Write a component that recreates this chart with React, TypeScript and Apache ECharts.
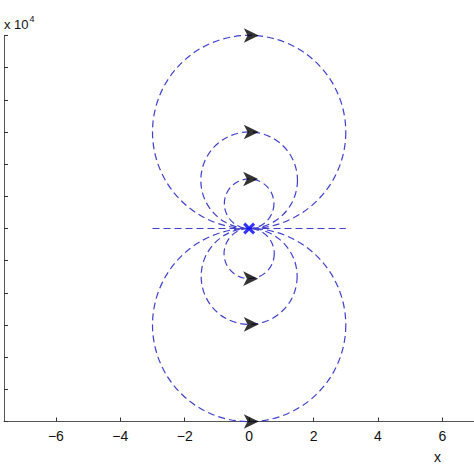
import React, { useEffect, useRef } from "react";
import * as echarts from "echarts";

// Root-locus branches (units: x, y in 10^4)
const circleCenterX = [0, 0, 0, 0, 0, 0];
const circleCenterY = [3.0, 1.5, 0.77, -3.0, -1.49, -0.78];
const circleRadius = [3.0, 1.5, 0.77, 3.0, 1.49, 0.78];
const realAxisBranch: [number, number][] = [[-3, 0], [3, 0]];
const arrowPoints: [number, number][] = [
  [0.3, 6.0], [0.3, 3.0], [0.28, 1.54],
  [0.3, -6.0], [0.3, -2.98], [0.28, -1.56],
];
const poles: [number, number][] = [[0, 0]];
const xTicks = [-6, -4, -2, 0, 2, 4, 6];

const LINE = "#4040cc";
const FONT = "'Liberation Sans', Arial, sans-serif";

export default function App() {
  const ref = useRef<HTMLDivElement>(null);
  useEffect(() => {
    if (!ref.current) return;
    const chart = echarts.init(ref.current, null, { renderer: "svg" });
    const circles = circleCenterY.map((cy, i) => [circleCenterX[i], cy, circleRadius[i]]);
    chart.setOption({
      animation: false,
      backgroundColor: "#ffffff",
      grid: { left: 4, right: 0, top: 35.5, bottom: 52.5, containLabel: false },
      xAxis: {
        type: "value",
        min: -7.61,
        max: 6.98,
        axisLine: { show: true, onZero: false, lineStyle: { color: "#555", width: 1 } },
        axisTick: { show: true, inside: true, length: 4, customValues: xTicks, lineStyle: { color: "#333" } },
        axisLabel: {
          show: true,
          customValues: xTicks,
          margin: 7,
          fontSize: 14,
          fontFamily: FONT,
          color: "#111",
          formatter: (v: number) => (v < 0 ? "\u2212" + Math.abs(v) : String(v)),
        },
        splitLine: { show: false },
      },
      yAxis: {
        type: "value",
        min: -6,
        max: 6,
        interval: 1,
        axisLine: { show: true, onZero: false, lineStyle: { color: "#555", width: 1 } },
        axisTick: { show: true, inside: true, length: 4, lineStyle: { color: "#333" } },
        axisLabel: { show: false },
        splitLine: { show: false },
      },
      series: [
        {
          type: "custom",
          data: circles,
          clip: false,
          renderItem: (params: any, api: any) => {
            const c = api.coord([api.value(0), api.value(1)]);
            const r = api.size([api.value(2), 0])[0];
            return {
              type: "circle",
              shape: { cx: c[0], cy: c[1], r },
              style: { fill: "none", stroke: LINE, lineWidth: 1.2, lineDash: [7, 4] },
            };
          },
          z: 1,
        },
        {
          type: "line",
          data: realAxisBranch,
          symbol: "none",
          lineStyle: { color: LINE, width: 1.2, type: [7, 4] },
          z: 1,
        },
        {
          type: "scatter",
          data: arrowPoints,
          symbol: "arrow",
          symbolRotate: -90,
          symbolSize: [11, 15],
          itemStyle: { color: "#000" },
          z: 3,
        },
        {
          type: "scatter",
          data: poles,
          symbol:
            "path://M0,1.8 L1.8,0 L5,3.2 L8.2,0 L10,1.8 L6.8,5 L10,8.2 L8.2,10 L5,6.8 L1.8,10 L0,8.2 L3.2,5 Z",
          symbolSize: 12,
          itemStyle: { color: "#0000ff" },
          z: 4,
        },
      ],
      graphic: [
        {
          type: "text",
          left: 4,
          top: 14,
          style: {
            text: "{a|x 10}{b|4}",
            rich: {
              a: { fontSize: 13, fontFamily: FONT, fill: "#111", verticalAlign: "bottom", padding: [4, 0, 0, 0] },
              b: { fontSize: 9, fontFamily: FONT, fill: "#111", verticalAlign: "top", padding: [0, 0, 8, 1] },
            },
          },
        },
        {
          type: "text",
          left: 434,
          top: 450,
          style: { text: "x", fontSize: 14, fontFamily: FONT, fill: "#111" },
        },
      ],
    });
    return () => chart.dispose();
  }, []);
  return (
    <div
      ref={ref}
      style={{ position: "fixed", left: 0, top: 0, width: 474, height: 474 }}
    />
  );
}
